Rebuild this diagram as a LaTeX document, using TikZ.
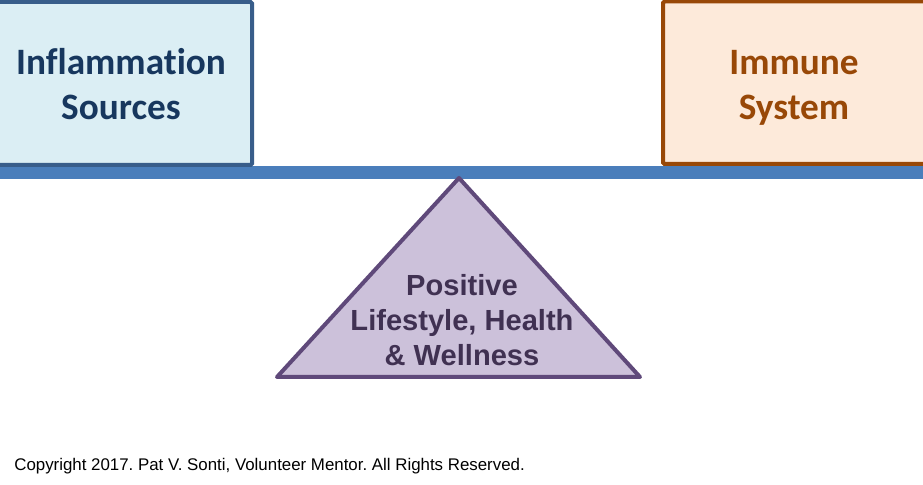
\documentclass[tikz,border=0pt]{standalone}
\usepackage{fontspec}
\setmainfont[Ligatures=NoCommon]{Carlito}
\newfontfamily\armfont{Liberation Sans}
\definecolor{sourcefill}{HTML}{DBEEF4}
\definecolor{sourceline}{HTML}{385D8A}
\definecolor{sourcetext}{HTML}{17375E}
\definecolor{immunefill}{HTML}{FDEADA}
\definecolor{immuneline}{HTML}{984807}
\definecolor{beamblue}{HTML}{4A7EBB}
\definecolor{pivotfill}{HTML}{CCC1DA}
\definecolor{pivotline}{HTML}{5F497A}
\definecolor{pivottext}{HTML}{403152}
\tikzset{
    weightbox/.style={line width=0.08cm, rounded corners=0.03cm},
    weightlabel/.style={align=center, font=\fontsize{21.2}{25.6}\selectfont\bfseries},
    pivotlabel/.style={align=center, font=\armfont\fontsize{16.55}{20}\selectfont\bfseries, text=pivottext},
}

\begin{document}
\begin{tikzpicture}
        \useasboundingbox (0,0) rectangle (18.46,9.7);
        \clip (0,0) rectangle (18.46,9.7);
        \fill[beamblue] (0,6.12) rectangle (18.46,6.38);
        \draw[weightbox, draw=sourceline, fill=sourcefill] (-0.5,6.4) rectangle (5.04,9.66) node[pos=.5, weightlabel, text=sourcetext, xshift=0.15cm, yshift=-0.02cm] (sources) {Inflammation\\Sources};
        \draw[weightbox, draw=immuneline, fill=immunefill] (13.26,6.42) rectangle (19,9.67) node[pos=.5, weightlabel, text=immuneline, xshift=-0.25cm, yshift=-0.1cm] (immune) {Immune\\System};
        \draw[line width=0.08cm, line join=round, draw=pivotline, fill=pivotfill] (5.54,2.16) -- (12.8,2.16) -- (9.18,6.14) -- cycle;
        \node[pivotlabel] (lifestyle) at (9.24,3.3) {Positive\\Lifestyle, Health\\\&~Wellness};
        \node[anchor=west, inner sep=0pt, font=\armfont\fontsize{9.6}{11}\selectfont\frenchspacing] (copyright) at (0.28,0.37) {Copyright 2017. Pat V. Sonti, Volunteer Mentor. All Rights Reserved.};
    \end{tikzpicture}
\end{document}
